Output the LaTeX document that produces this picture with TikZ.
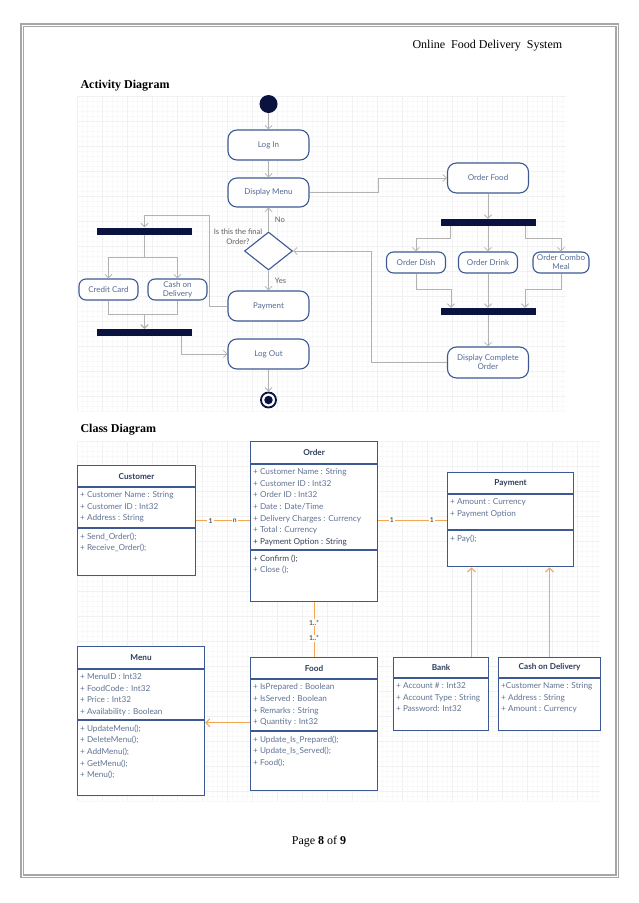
\documentclass[tikz,border=0pt]{standalone}
\usepackage{fontspec}
\setmainfont{Liberation Serif}
\newfontfamily\lato{Lato}
\usepackage{tikz}
\usetikzlibrary{shapes.geometric,arrows.meta}
\definecolor{boxblue}{rgb}{0.24, 0.35, 0.58}
\definecolor{barnavy}{rgb}{0.04, 0.07, 0.25}
\definecolor{flowgray}{rgb}{0.70, 0.70, 0.70}
\definecolor{acttext}{rgb}{0.33, 0.42, 0.58}
\definecolor{clstitle}{rgb}{0.18, 0.24, 0.35}
\definecolor{clstext}{rgb}{0.38, 0.45, 0.58}
\definecolor{clsdark}{rgb}{0.22, 0.26, 0.34}
\definecolor{assocorange}{rgb}{0.95, 0.66, 0.33}
\tikzstyle{actbox}=[draw=boxblue, line width=1.1pt, rounded corners=9pt, fill=white, minimum width=81pt, minimum height=30pt, inner sep=1pt, align=center, text=acttext, font=\lato\fontsize{8}{9}\selectfont]
\tikzstyle{smallact}=[actbox, minimum width=59pt, minimum height=21pt, rounded corners=7pt]
\tikzstyle{syncbar}=[fill=barnavy, minimum width=95pt, minimum height=7pt, inner sep=0pt]
\tikzstyle{flow}=[draw=flowgray, line width=0.8pt, -{Straight Barb[length=3.5pt,width=7pt]}]
\tikzstyle{flowlbl}=[text=gray!75!black, font=\lato\fontsize{7.6}{9.5}\selectfont, inner sep=1pt]
\tikzstyle{classhead}=[anchor=north west, draw=boxblue, line width=1.1pt, fill=white, inner sep=0pt, text=clstitle, font=\lato\bfseries\fontsize{8.2}{9}\selectfont]
\tikzstyle{classpart}=[anchor=north, draw=boxblue, line width=1.1pt, fill=white, inner sep=0pt]
\tikzstyle{classtext}=[anchor=north west, inner sep=0pt, align=left, text=clstext, font=\lato\fontsize{8.2}{11.6}\selectfont]
\tikzstyle{assoc}=[draw=assocorange, line width=1.1pt]
\tikzstyle{inherit}=[assoc, -{Straight Barb[length=4pt,width=8pt]}]
\tikzstyle{multlbl}=[fill=white, inner sep=1.2pt, text=gray!70!black, font=\lato\bfseries\fontsize{6.8}{7}\selectfont]
\tikzstyle{gridline}=[draw=gray!5, line width=0.3pt]
\tikzstyle{gridmajor}=[draw=gray!11, line width=0.3pt]
% class box: name, top left, width, heights of the three parts, title, attributes, operations
\newcommand{\umlclass}[9]{
  \node[classhead, minimum width=#3pt, minimum height=#4pt] (#1) at (#2) {#7};
  \node[classpart, minimum width=#3pt, minimum height=#5pt] (#1-attr) at (#1.south) {};
  \node[classtext] (#1-attrtxt) at ([xshift=3pt,yshift=-4.5pt]#1-attr.north west) {#8};
  \ifdim #6pt>0pt
    \node[classpart, minimum width=#3pt, minimum height=#6pt] (#1-meth) at (#1-attr.south) {};
    \node[classtext] (#1-methtxt) at ([xshift=3pt,yshift=-4.5pt]#1-meth.north west) {#9};
  \fi
}
\begin{document}
\begin{tikzpicture}[x=1pt, y=-1pt]
\useasboundingbox (0,0) rectangle (638,903);
\fill[white] (0,0) rectangle (638,903);
% page frame and texts
\draw[gray!70, line width=1.1pt, double=white, double distance=0.9pt] (22,25) rectangle (617,876);
\node[anchor=west, font=\fontsize{12}{14}\selectfont] (doctitle) at (409,46) {Online\ \ Food Delivery\ \ System};
\node[anchor=west, font=\bfseries\fontsize{12}{14}\selectfont] (acttitle) at (77,86) {Activity Diagram};
\node[anchor=west, font=\bfseries\fontsize{12}{14}\selectfont] (clstitle) at (77,430) {Class Diagram};
\node[font=\fontsize{12}{14}\selectfont] (pagefoot) at (319,842) {Page \textbf{8} of \textbf{9}};
% grids
\foreach \gx in {77,82,...,566} \draw[gridline] (\gx,96) -- (\gx,411);
\foreach \gy in {96,101,...,411} \draw[gridline] (77,\gy) -- (566,\gy);
\foreach \gx in {77,102,...,566} \draw[gridmajor] (\gx,96) -- (\gx,411);
\foreach \gy in {96,121,...,411} \draw[gridmajor] (77,\gy) -- (566,\gy);
\foreach \gx in {77,82,...,600} \draw[gridline] (\gx,441) -- (\gx,801);
\foreach \gy in {441,446,...,801} \draw[gridline] (77,\gy) -- (600,\gy);
\foreach \gx in {77,102,...,600} \draw[gridmajor] (\gx,441) -- (\gx,801);
\foreach \gy in {441,466,...,801} \draw[gridmajor] (77,\gy) -- (600,\gy);

% activity diagram
\node[circle, fill=barnavy, minimum size=18pt, inner sep=0pt] (start) at (268.5,104) {};
\node[actbox] (login) at (268.5,145) {Log In};
\node[actbox, minimum height=29pt] (dispmenu) at (268.5,192.5) {Display Menu};
\node[diamond, draw=boxblue, line width=1.1pt, fill=white, minimum width=48pt, minimum height=38pt, inner sep=0pt] (decision) at (268.5,251) {};
\node[flowlbl, align=center] (asklbl) at (238,236.5) {Is this the final\\Order?};
\node[actbox] (payment) at (268.5,306) {Payment};
\node[actbox] (logout) at (268.5,354) {Log Out};
\node[circle, draw=barnavy, line width=1.8pt, fill=white, minimum size=15pt, inner sep=0pt] (end) at (268.5,400) {};
\node[circle, fill=barnavy, minimum size=8.5pt, inner sep=0pt] (endcore) at (end) {};

\node[syncbar] (leftfork) at (144.5,231) {};
\node[smallact] (credit) at (108.5,289.5) {Credit Card};
\node[smallact] (cod) at (177.5,289.5) {Cash on\\Delivery};
\node[syncbar] (leftjoin) at (144.5,332.5) {};

\node[actbox] (orderfood) at (488,178) {Order Food};
\node[syncbar] (rightfork) at (488,222.5) {};
\node[smallact] (dish) at (416,262.5) {Order Dish};
\node[smallact] (drink) at (488,262.5) {Order Drink};
\node[smallact, minimum width=56pt] (combo) at (561,262.5) {Order Combo\\Meal};
\node[syncbar] (rightjoin) at (488,311.5) {};
\node[actbox, minimum height=31pt] (dispcomplete) at (488,362.5) {Display Complete\\Order};

\draw[flow] (start) -- (login);
\draw[flow] (login) -- (dispmenu);
\draw[flow] (decision.north) -- (dispmenu.south) node[flowlbl, midway, right=5pt] (nolbl) {No};
\draw[flow] (decision.south) -- (payment.north) node[flowlbl, midway, right=5pt] (yeslbl) {Yes};
\draw[flow] (payment.west) -- ++(-18,0) |- ([yshift=12pt]leftfork.north) -- (leftfork.north);
\draw[flow] (leftfork.south) -- ++(0,23) -| (credit.north);
\draw[flow] (leftfork.south) -- ++(0,23) -| (cod.north);
\draw[flow] (credit.south) |- ([yshift=14pt]leftjoin.north) -- (leftjoin.north);
\draw[flow] (cod.south) |- ([yshift=14pt]leftjoin.north) -- (leftjoin.north);
\draw[flow] ([xshift=36.5pt]leftjoin.south) |- (logout.west);
\draw[flow] (logout) -- (end);
\draw[flow] (dispmenu.east) -- ++(69,0) |- (orderfood.west);
\draw[flow] (orderfood) -- (rightfork);
\draw[flow] ([xshift=-38pt]rightfork.south) -- ++(0,12) -| (dish.north);
\draw[flow] (rightfork.south) -- (drink.north);
\draw[flow] ([xshift=37pt]rightfork.south) -- ++(0,12) -| (combo.north);
\draw[flow] (dish.south) -- ++(0,16) -| ([xshift=-37pt]rightjoin.north);
\draw[flow] (drink.south) -- (rightjoin.north);
\draw[flow] (combo.south) -- ++(0,16) -| ([xshift=37pt]rightjoin.north);
\draw[flow] (rightjoin) -- (dispcomplete);
\draw[flow] (dispcomplete.west) -- ++(-76,0) |- (decision.east);

% class diagram
\umlclass{customer}{77,465}{118}{21}{40}{47}{Customer}
  {+ Customer Name : String\\+ Customer ID : Int32\\+ Address : String}
  {+ Send\_Order();\\+ Receive\_Order();}
\umlclass{order}{250,441}{127}{22}{85}{51}{Order}
  {+ Customer Name : String\\+ Customer ID : Int32\\+ Order ID : Int32\\+ Date : Date/Time\\+ Delivery Charges : Currency\\+ Total : Currency\\\textcolor{clsdark}{+ Payment Option : String}}
  {\textcolor{clsdark}{+ Confirm ();}\\+ Close ();}
\umlclass{payment}{447,472}{126}{21}{35}{36}{Payment}
  {+ Amount : Currency\\+ Payment Option}
  {+ Pay();}
\umlclass{menu}{77,646}{127}{22}{50}{75}{Menu}
  {+ MenuID : Int32\\+ FoodCode : Int32\\+ Price : Int32\\+ Availability : Boolean}
  {+ UpdateMenu();\\+ DeleteMenu();\\+ AddMenu();\\+ GetMenu();\\+ Menu();}
\umlclass{food}{250,657}{127}{21}{51}{59}{Food}
  {+ IsPrepared : Boolean\\+ IsServed : Boolean\\+ Remarks : String\\+ Quantity : Int32}
  {+ Update\_Is\_Prepared();\\+ Update\_Is\_Served();\\+ Food();}
\umlclass{bank}{393,657}{95}{20}{52}{0}{Bank}
  {+ Account \# : Int32\\+ Account Type : String\\+ Password: Int32}{}
\umlclass{cashdel}{498,657}{102}{20}{52}{0}{Cash on Delivery}
  {+Customer Name : String\\+ Address : String\\+ Amount : Currency}{}

\draw[assoc] ([yshift=-13pt]customer-attr.east) -- ([yshift=-13pt]customer-attr.east -| order-attr.west)
  node[multlbl, pos=0.27] (custone) {1} node[multlbl, pos=0.72] (ordermany) {n};
\draw[assoc] ([yshift=-13pt]order-attr.east) -- ([yshift=-13pt]order-attr.east -| payment-attr.west)
  node[multlbl, pos=0.2] (orderone) {1} node[multlbl, pos=0.78] (payone) {1};
\draw[assoc] (order-meth.south) -- (food.north)
  node[multlbl, pos=0.37] (orderfoods) {1..*} node[multlbl, pos=0.66] (foodorders) {1..*};
\draw[inherit] ([yshift=-17.5pt]food-attr.west) -- ([yshift=-17.5pt]food-attr.west -| menu-meth.east);
\draw[inherit] ([xshift=30.5pt]bank.north) -- ([xshift=30.5pt]bank.north |- payment-meth.south);
\draw[inherit] (cashdel.north) -- (cashdel.north |- payment-meth.south);
\end{tikzpicture}
\end{document}
